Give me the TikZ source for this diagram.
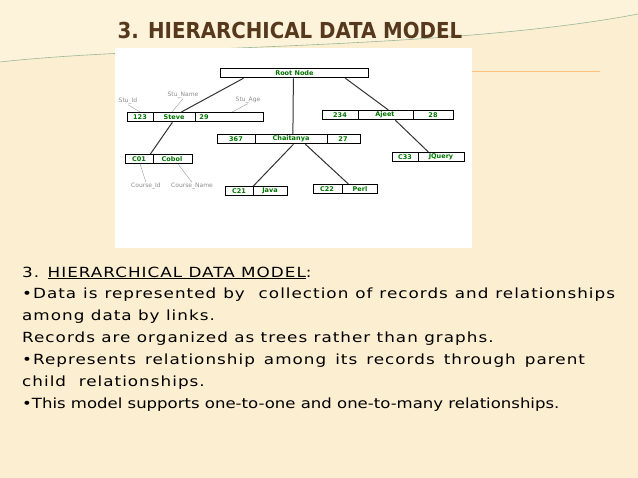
\documentclass[tikz,border=0pt]{standalone}
\usepackage{fontspec}
\setmainfont{DejaVu Sans}[LetterSpace=6]
\newfontfamily\titlefont{DejaVu Sans Condensed}
\newfontfamily\dfont{DejaVu Sans}
\newcommand\wide[1]{\scalebox{1.2}[1]{#1}}
\definecolor{bgc}{RGB}{252,238,208}
\definecolor{bgt}{RGB}{253,243,218}
\begin{document}
\begin{tikzpicture}[x=1pt,y=-1pt,
  cell/.style={draw=black,line width=0.8pt,fill=white,inner sep=0pt,font=\dfont\bfseries\fontsize{6.5}{7}\selectfont,text=green!45!black},
  conn/.style={line width=1pt,black!80},
  lbl/.style={font=\dfont\fontsize{6}{7}\selectfont,text=black!45,inner sep=0.5pt},
  ptr/.style={black!40,line width=0.4pt},
  body/.style={anchor=west,inner sep=0pt,font=\fontsize{14}{16}\selectfont}]
\useasboundingbox (0,0) rectangle (638,478);
\fill[bgc] (0,0) rectangle (638,478);
\fill[bgt] (0,0) -- (638,0) -- (638,14) .. controls (450,50) and (150,45) .. (0,62) -- cycle;
\draw[green!30!black!40,line width=0.6pt] (0,62) .. controls (150,45) and (450,50) .. (638,14);
\node[font=\titlefont\bfseries\fontsize{22}{24}\selectfont,text=brown!45!black] (title) at (290,30) {3. HIERARCHICAL DATA MODEL};
\fill[white] (115,48) rectangle (472,248);
\draw[orange!50,line width=1pt] (472,72) -- (600,72);
% records
\newcommand\rec[4]{\node[cell,minimum width=#3-#2,minimum height=9.5pt,anchor=north west] (#1) at (#2,#4) {};}
\rec{root}{220}{368}{68}
\node[cell,draw=none,fill=none] (roott) at (root.center) {Root Node};
\rec{steve}{127}{263}{112}
\draw (153,112) -- (153,121.5) (195,112) -- (195,121.5);
\node[cell,draw=none,fill=none] at (140,117) {123};
\node[cell,draw=none,fill=none] at (174,117) {Steve};
\node[cell,draw=none,fill=none] at (204,117) {29};
\rec{chai}{217}{360}{134}
\draw (255,134) -- (255,143.5) (327,134) -- (327,143.5);
\node[cell,draw=none,fill=none] at (236,139) {367};
\node[cell,draw=none,fill=none] at (291,139) {Chaitanya};
\node[cell,draw=none,fill=none] at (343,139) {27};
\rec{ajeet}{322}{453}{110}
\draw (358,110) -- (358,119.5) (413,110) -- (413,119.5);
\node[cell,draw=none,fill=none] at (340,115) {234};
\node[cell,draw=none,fill=none] at (385,115) {Ajeet};
\node[cell,draw=none,fill=none] at (433,115) {28};
\rec{cobol}{125}{192}{154}
\draw (153,154) -- (153,163.5);
\node[cell,draw=none,fill=none] at (139,159) {C01};
\node[cell,draw=none,fill=none] at (172,159) {Cobol};
\rec{java}{225}{287}{186}
\draw (253,186) -- (253,195.5);
\node[cell,draw=none,fill=none] at (239,191) {C21};
\node[cell,draw=none,fill=none] at (270,191) {Java};
\rec{perl}{313}{377}{184}
\draw (342,184) -- (342,193.5);
\node[cell,draw=none,fill=none] at (327,189) {C22};
\node[cell,draw=none,fill=none] at (360,189) {Perl};
\rec{jq}{392}{464}{152}
\draw (418,152) -- (418,161.5);
\node[cell,draw=none,fill=none] at (405,157) {C33};
\node[cell,draw=none,fill=none] at (441,157) {JQuery};
% connectors
\draw[conn] ([xshift=-51pt]root.south) -- ([xshift=-14pt]steve.north);
\draw[conn] ([xshift=-1pt]root.south) -- ([xshift=4pt]chai.north);
\draw[conn] ([xshift=51pt]root.south) -- ([xshift=0.5pt]ajeet.north);
\draw[conn] ([xshift=-23pt]steve.south) -- ([xshift=-8.5pt]cobol.north);
\draw[conn] ([xshift=4.5pt]chai.south) -- ([xshift=-3pt]java.north);
\draw[conn] ([xshift=16.5pt]chai.south) -- ([xshift=3pt]perl.north);
\draw[conn] ([xshift=7.5pt]ajeet.south) -- ([xshift=0pt]jq.north);
% labels
\node[lbl] (sid) at (128,101) {Stu\_Id};
\node[lbl] (sname) at (183,95) {Stu\_Name};
\node[lbl] (sage) at (248,100) {Stu\_Age};
\node[lbl] (cid) at (146,186) {Course\_Id};
\node[lbl] (cname) at (192,186) {Course\_Name};
\draw[ptr] (sid.south) -- (140,112);
\draw[ptr] (sname.south) -- (172,112);
\draw[ptr] (sage.south) -- (232,112);
\draw[ptr] (cid.north) -- (140,164);
\draw[ptr] (cname.north) -- (178,164);
% body text
\node[body] (t1) at (22,273) {\wide{3. \underline{HIERARCHICAL DATA MODEL}:}};
\node[body] (t2) at (22,295) {\wide{\makebox[494pt][s]{•Data is represented by \ collection of records and relationships}}};
\node[body] (t3) at (22,317) {\wide{among data by links.}};
\node[body] (t4) at (22,339) {\wide{Records are organized as trees rather than graphs.}};
\node[body] (t5) at (22,361) {\wide{\makebox[469pt][s]{•Represents relationship among its records through parent}}};
\node[body] (t6) at (22,383) {\wide{child \ relationships.}};
\node[body] (t7) at (22,405) {\scalebox{1.18}[1]{\addfontfeature{LetterSpace=0}•This model supports one-to-one and one-to-many relationships.}};
\end{tikzpicture}
\end{document}
